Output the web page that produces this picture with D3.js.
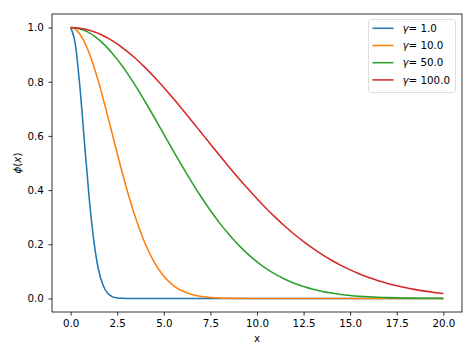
<!DOCTYPE html>
<html><head><meta charset="utf-8">
<script src="https://cdn.jsdelivr.net/npm/d3@7"></script>
<style>
html,body{margin:0;padding:0;background:#fff;}
text{font-family:"DejaVu Sans",sans-serif;}
</style></head>
<body>
<svg id="chart" width="474" height="355"></svg>
<script>
const xValues = [0,0.25,0.5,0.75,1,1.25,1.5,1.75,2,2.25,2.5,2.75,3,
  3.5,4,4.5,5,5.5,6,6.5,7,7.5,8,8.5,9,9.5,10,10.5,11,11.5,12,12.5,13,13.5,14,14.5,15,15.5,16,16.5,17,17.5,18,18.5,19,19.5,20];
const seriesNames = ["1.0","10.0","50.0","100.0"];
const gamma1 = [1,0.939,0.779,0.570,0.368,0.210,0.105,0.047,0.018,0.006,0.002,0.0005,0.0001,
  0,0,0,0,0,0,0,0,0,0,0,0,0,0,0,0,0,0,0,0,0,0,0,0,0,0,0,0,0,0,0,0,0,0];
const gamma10 = [1,0.9938,0.9753,0.9453,0.9048,0.8553,0.7985,0.7360,0.6703,0.6027,0.5353,0.4695,0.4066,
  0.2938,0.2019,0.1320,0.0821,0.0486,0.0273,0.0146,0.0074,0.0036,0.0017,0.0007,0.0003,0.0001,
  0,0,0,0,0,0,0,0,0,0,0,0,0,0,0,0,0,0,0,0,0];
const gamma50 = [1,0.9988,0.9950,0.9888,0.9802,0.9692,0.9560,0.9406,0.9231,0.9037,0.8825,0.8596,0.8353,
  0.7827,0.7261,0.6670,0.6065,0.5461,0.4868,0.4296,0.3753,0.3247,0.2780,0.2357,0.1979,0.1645,0.1353,0.1103,0.0889,0.0710,0.0561,0.0439,0.0340,0.0261,0.0198,0.0149,0.0111,0.0082,0.0060,0.0043,0.0031,0.0022,0.0015,0.0011,0.0007,0.0005,0.0003];
const gamma100 = [1,0.9994,0.9975,0.9944,0.9900,0.9845,0.9778,0.9698,0.9608,0.9506,0.9394,0.9272,0.9139,
  0.8848,0.8521,0.8167,0.7788,0.7390,0.6977,0.6554,0.6126,0.5698,0.5273,0.4855,0.4449,0.4056,0.3679,0.3320,0.2982,0.2665,0.2369,0.2096,0.1845,0.1616,0.1409,0.1222,0.1054,0.0905,0.0773,0.0657,0.0556,0.0468,0.0392,0.0326,0.0270,0.0223,0.0183];
const xTicks = [0,2.5,5,7.5,10,12.5,15,17.5,20];
const yTicks = [0,0.2,0.4,0.6,0.8,1.0];
const colors = ["#1f77b4","#ff7f0e","#2ca02c","#d62728"];
const allSeries = [gamma1,gamma10,gamma50,gamma100];

const svg = d3.select("#chart");
const L=52, R=462, T=14, B=312;
const x = d3.scaleLinear().domain([-1,21]).range([L,R]);
const y = d3.scaleLinear().domain([-0.05,1.05]).range([B,T]);

const line = d3.line().x(d=>x(d[0])).y(d=>y(d[1])).curve(d3.curveMonotoneX);
allSeries.forEach((s,i)=>{
  svg.append("path").datum(xValues.map((xv,j)=>[xv,s[j]]))
    .attr("d",line).attr("fill","none").attr("stroke",colors[i]).attr("stroke-width",1.55);
});

const xAxis = svg.append("g").attr("transform",`translate(0,${B})`)
  .call(d3.axisBottom(x).tickValues(xTicks).tickFormat(d3.format(".1f")).tickSizeOuter(0).tickSize(3.6).tickPadding(4.5));
const yAxis = svg.append("g").attr("transform",`translate(${L},0)`)
  .call(d3.axisLeft(y).tickValues(yTicks).tickFormat(d3.format(".1f")).tickSizeOuter(0).tickSize(3.6).tickPadding(4.5));
[xAxis,yAxis].forEach(g=>{
  g.select(".domain").remove();
  g.selectAll("text").attr("font-size","10.3px").attr("fill","#000").attr("font-family","DejaVu Sans");
  g.selectAll("line").attr("stroke","#000").attr("stroke-width",0.8);
});
svg.append("rect").attr("x",L).attr("y",T).attr("width",R-L).attr("height",B-T)
  .attr("fill","none").attr("stroke","#000").attr("stroke-width",0.8);

svg.append("text").attr("x",(L+R)/2).attr("y",342).attr("text-anchor","middle")
  .attr("font-size","10.3px").text("x");
const yl = svg.append("text").attr("transform",`translate(21,${(T+B)/2}) rotate(-90)`)
  .attr("text-anchor","middle").attr("font-size","10.3px");
yl.append("tspan").attr("font-style","italic").text("ϕ");
yl.append("tspan").text("(");
yl.append("tspan").attr("font-style","italic").text("x");
yl.append("tspan").text(")");

// legend
const lg = svg.append("g");
lg.append("rect").attr("x",368.5).attr("y",19.5).attr("width",87).attr("height",73).attr("rx",2.5)
  .attr("fill","#fff").attr("fill-opacity",0.8).attr("stroke","#d6d6d6").attr("stroke-width",0.8);
seriesNames.forEach((n,i)=>{
  const yy = 28.3 + i*17.2;
  lg.append("line").attr("x1",372.5).attr("x2",393.5).attr("y1",yy).attr("y2",yy)
    .attr("stroke",colors[i]).attr("stroke-width",1.55);
  const t = lg.append("text").attr("x",402.5).attr("y",yy+3.7).attr("font-size","10.3px");
  t.append("tspan").attr("font-style","italic").text("γ");
  t.append("tspan").text("= "+n);
});
</script>
</body></html>
